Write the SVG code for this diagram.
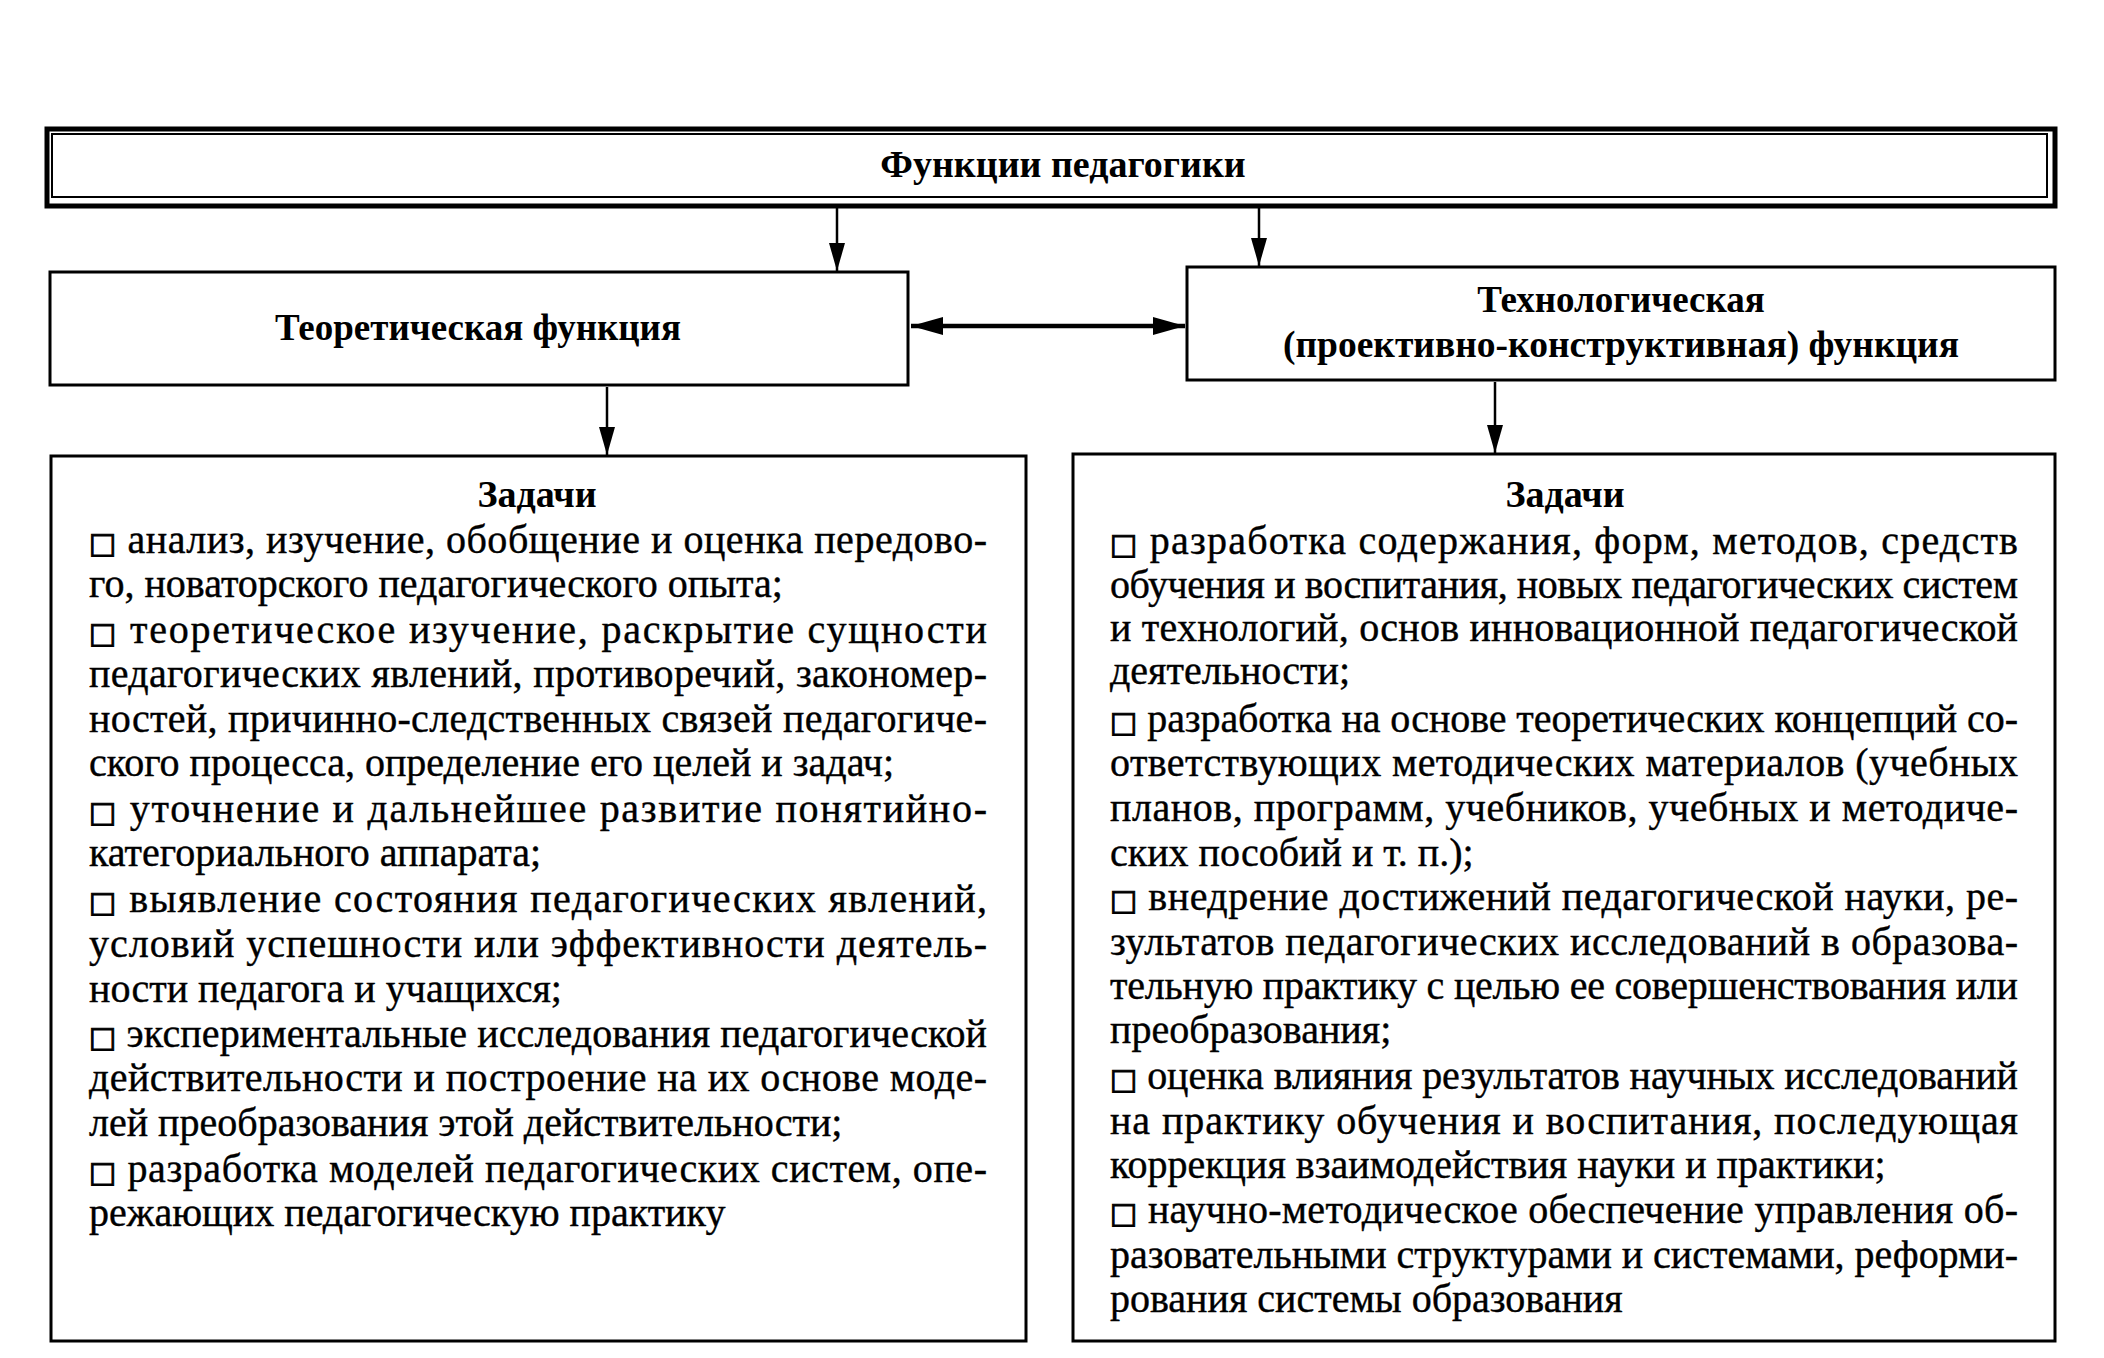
<svg xmlns="http://www.w3.org/2000/svg" width="2104" height="1358" viewBox="0 0 2104 1358">
<style>
.box{fill:#fff;stroke:#000;stroke-width:3}
.title{font-family:"Liberation Serif","Times New Roman",serif;font-weight:bold;fill:#000;text-anchor:middle}
.body{font-family:"Liberation Serif","Times New Roman",serif;font-size:40px;fill:#000;stroke:#000;stroke-width:0.4}
.b{font-family:"DejaVu Sans",sans-serif;font-size:29px;font-weight:bold;stroke-width:1}
.con{stroke:#000;fill:none}
</style>
<defs>
<marker id="ah" markerUnits="userSpaceOnUse" markerWidth="28" markerHeight="16" refX="28" refY="8" orient="auto-start-reverse">
<path d="M0,0 L28,8 L0,16 Z" fill="#000"/>
</marker>
<marker id="ahb" markerUnits="userSpaceOnUse" markerWidth="32" markerHeight="18" refX="32" refY="9" orient="auto-start-reverse">
<path d="M0,0 L32,9 L0,18 Z" fill="#000"/>
</marker>
</defs>
<rect width="2104" height="1358" fill="#fff"/>

<g id="connectors">
<line class="con" x1="837" y1="208" x2="837" y2="271" stroke-width="2.5" marker-end="url(#ah)"/>
<line class="con" x1="1259" y1="208" x2="1259" y2="266" stroke-width="2.5" marker-end="url(#ah)"/>
<line class="con" x1="911" y1="326" x2="1185" y2="326" stroke-width="4.5" marker-start="url(#ahb)" marker-end="url(#ahb)"/>
<line class="con" x1="607" y1="387" x2="607" y2="455" stroke-width="2.5" marker-end="url(#ah)"/>
<line class="con" x1="1495" y1="382" x2="1495" y2="453" stroke-width="2.5" marker-end="url(#ah)"/>
</g>

<g id="node-functions">
<rect x="47" y="129" width="2008" height="77" fill="#fff" stroke="#000" stroke-width="5"/>
<rect x="52" y="134" width="1995" height="63" fill="none" stroke="#000" stroke-width="2"/>
<text class="title" x="1063" y="177" font-size="38">Функции педагогики</text>
</g>

<g id="node-theoretical">
<rect class="box" x="50" y="272" width="858" height="113"/>
<text class="title" x="478" y="340" font-size="37">Теоретическая функция</text>
</g>

<g id="node-technological">
<rect class="box" x="1187" y="267" width="868" height="113"/>
<text class="title" x="1621" y="312" font-size="37">Технологическая</text>
<text class="title" x="1621" y="357" font-size="37.5">(проективно-конструктивная) функция</text>
</g>

<g id="node-tasks-theoretical">
<rect class="box" x="51" y="456" width="975" height="885"/>
<text class="title" x="537" y="507" font-size="38">Задачи</text>
<text class="body" x="89" y="553" textLength="898" lengthAdjust="spacing"><tspan class="b">□</tspan> анализ, изучение, обобщение и оценка передово-</text>
<text class="body" x="89" y="597">го, новаторского педагогического опыта;</text>
<text class="body" x="89" y="643" textLength="898" lengthAdjust="spacing"><tspan class="b">□</tspan> теоретическое изучение, раскрытие сущности</text>
<text class="body" x="89" y="687" textLength="898" lengthAdjust="spacing">педагогических явлений, противоречий, закономер-</text>
<text class="body" x="89" y="732" textLength="898" lengthAdjust="spacing">ностей, причинно-следственных связей педагогиче-</text>
<text class="body" x="89" y="776">ского процесса, определение его целей и задач;</text>
<text class="body" x="89" y="822" textLength="898" lengthAdjust="spacing"><tspan class="b">□</tspan> уточнение и дальнейшее развитие понятийно-</text>
<text class="body" x="89" y="866">категориального аппарата;</text>
<text class="body" x="89" y="912" textLength="898" lengthAdjust="spacing"><tspan class="b">□</tspan> выявление состояния педагогических явлений,</text>
<text class="body" x="89" y="957" textLength="898" lengthAdjust="spacing">условий успешности или эффективности деятель-</text>
<text class="body" x="89" y="1002">ности педагога и учащихся;</text>
<text class="body" x="89" y="1047" textLength="898" lengthAdjust="spacing"><tspan class="b">□</tspan> экспериментальные исследования педагогической</text>
<text class="body" x="89" y="1091" textLength="898" lengthAdjust="spacing">действительности и построение на их основе моде-</text>
<text class="body" x="89" y="1136">лей преобразования этой действительности;</text>
<text class="body" x="89" y="1182" textLength="898" lengthAdjust="spacing"><tspan class="b">□</tspan> разработка моделей педагогических систем, опе-</text>
<text class="body" x="89" y="1226">режающих педагогическую практику</text>
</g>

<g id="node-tasks-technological">
<rect class="box" x="1073" y="454" width="982" height="887"/>
<text class="title" x="1565" y="507" font-size="38">Задачи</text>
<text class="body" x="1110" y="554" textLength="908" lengthAdjust="spacing"><tspan class="b">□</tspan> разработка содержания, форм, методов, средств</text>
<text class="body" x="1110" y="598" textLength="908" lengthAdjust="spacing">обучения и воспитания, новых педагогических систем</text>
<text class="body" x="1110" y="641" textLength="908" lengthAdjust="spacing">и технологий, основ инновационной педагогической</text>
<text class="body" x="1110" y="684">деятельности;</text>
<text class="body" x="1110" y="732" textLength="908" lengthAdjust="spacing"><tspan class="b">□</tspan> разработка на основе теоретических концепций со-</text>
<text class="body" x="1110" y="776" textLength="908" lengthAdjust="spacing">ответствующих методических материалов (учебных</text>
<text class="body" x="1110" y="821" textLength="908" lengthAdjust="spacing">планов, программ, учебников, учебных и методиче-</text>
<text class="body" x="1110" y="866">ских пособий и т. п.);</text>
<text class="body" x="1110" y="910" textLength="908" lengthAdjust="spacing"><tspan class="b">□</tspan> внедрение достижений педагогической науки, ре-</text>
<text class="body" x="1110" y="955" textLength="908" lengthAdjust="spacing">зультатов педагогических исследований в образова-</text>
<text class="body" x="1110" y="999" textLength="908" lengthAdjust="spacing">тельную практику с целью ее совершенствования или</text>
<text class="body" x="1110" y="1043">преобразования;</text>
<text class="body" x="1110" y="1089" textLength="908" lengthAdjust="spacing"><tspan class="b">□</tspan> оценка влияния результатов научных исследований</text>
<text class="body" x="1110" y="1134" textLength="908" lengthAdjust="spacing">на практику обучения и воспитания, последующая</text>
<text class="body" x="1110" y="1178">коррекция взаимодействия науки и практики;</text>
<text class="body" x="1110" y="1223" textLength="908" lengthAdjust="spacing"><tspan class="b">□</tspan> научно-методическое обеспечение управления об-</text>
<text class="body" x="1110" y="1268" textLength="908" lengthAdjust="spacing">разовательными структурами и системами, реформи-</text>
<text class="body" x="1110" y="1312">рования системы образования</text>
</g>
</svg>
